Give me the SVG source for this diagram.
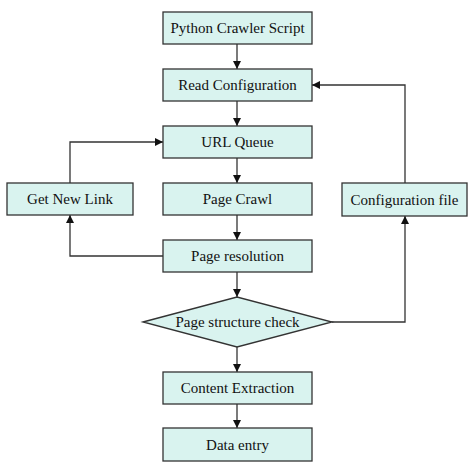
<svg xmlns="http://www.w3.org/2000/svg" width="474" height="474" viewBox="0 0 474 474">
<style>
.n{fill:#d9f3ef;stroke:#333;stroke-width:1.3}
.t{font-family:"Liberation Serif","Times New Roman",serif;font-size:15px;fill:#111;text-anchor:middle;dominant-baseline:central}
.c{fill:none;stroke:#333;stroke-width:1.3;marker-end:url(#a)}
</style>
<defs>
<marker id="a" viewBox="0 0 10 10" refX="10" refY="5" markerWidth="8" markerHeight="8" markerUnits="userSpaceOnUse" orient="auto">
<path d="M0,0 L10,5 L0,10 Z" fill="#111"/>
</marker>
</defs>
<rect width="474" height="474" fill="#fff"/>
<g id="connectors">
<path class="c" d="M237,44 V69"/>
<path class="c" d="M237,101 V126"/>
<path class="c" d="M237,158 V183"/>
<path class="c" d="M237,215 V240"/>
<path class="c" d="M237,272 V297"/>
<path class="c" d="M237,347 V372"/>
<path class="c" d="M237,404 V428"/>
<path class="c" d="M163,256 H70 V215"/>
<path class="c" d="M70,183 V142 H163"/>
<path class="c" d="M332,322 H405 V216"/>
<path class="c" d="M405,183 V85 H312"/>
</g>
<g id="n1"><rect class="n" x="163" y="12" width="149" height="32"/><text class="t" x="237.5" y="28">Python Crawler Script</text></g>
<g id="n2"><rect class="n" x="163" y="69" width="149" height="32"/><text class="t" x="237.5" y="85">Read Configuration</text></g>
<g id="n3"><rect class="n" x="163" y="126" width="149" height="32"/><text class="t" x="237.5" y="142">URL Queue</text></g>
<g id="n4"><rect class="n" x="163" y="183" width="149" height="32"/><text class="t" x="237.5" y="199">Page Crawl</text></g>
<g id="n5"><rect class="n" x="163" y="240" width="149" height="32"/><text class="t" x="237.5" y="256">Page resolution</text></g>
<g id="n6"><polygon class="n" points="143,322 237,297 332,322 237,347"/><text class="t" x="237.5" y="322">Page structure check</text></g>
<g id="n7"><rect class="n" x="163" y="372" width="149" height="32"/><text class="t" x="237.5" y="388">Content Extraction</text></g>
<g id="n8"><rect class="n" x="163" y="428" width="149" height="33"/><text class="t" x="237.5" y="445">Data entry</text></g>
<g id="n9"><rect class="n" x="7" y="183" width="126" height="32"/><text class="t" x="70" y="199">Get New Link</text></g>
<g id="n10"><rect class="n" x="342" y="183" width="125" height="33"/><text class="t" x="404.5" y="199.5">Configuration file</text></g>
</svg>
